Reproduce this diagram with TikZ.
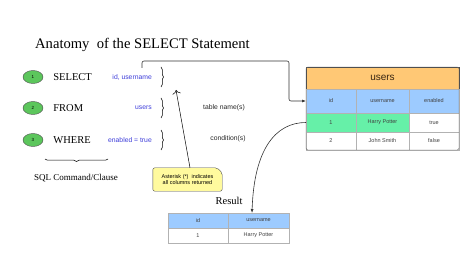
\documentclass[tikz,border=0pt]{standalone}
\usepackage{fontspec}
\setmainfont{Liberation Serif}
\setsansfont{Liberation Sans}
\usepackage{xcolor}
\usetikzlibrary{arrows.meta, positioning, shapes.geometric, decorations.pathreplacing, backgrounds}

\definecolor{clausegreen}{HTML}{5CC65C}
\definecolor{titleorange}{HTML}{FFC875}
\definecolor{headblue}{HTML}{9DCBFF}
\definecolor{rowgreen}{HTML}{66F0A8}
\definecolor{argblue}{HTML}{3D3DD9}
\definecolor{noteyellow}{HTML}{FFFA9E}

\tikzset{
  stepnum/.style={ellipse, draw=black!70, fill=clausegreen, minimum width=20, minimum height=13, inner sep=0pt, font=\sffamily\fontsize{4.5}{5}\selectfont},
  keyword/.style={inner sep=0pt, font=\rmfamily\fontsize{10.5}{12}\selectfont},
  argtext/.style={anchor=east, inner sep=0pt, text=argblue, font=\sffamily\fontsize{6.8}{8}\selectfont},
  plaintext/.style={text=black!85, font=\sffamily\fontsize{6.8}{8}\selectfont},
  brace/.style={decorate, decoration={brace, amplitude=2.5pt}, line width=0.5pt},
  cell/.style={draw=gray!60, minimum height=19, inner sep=0pt, outer sep=0pt, font=\sffamily\fontsize{5.5}{6}\selectfont, text=black!75},
  headcell/.style={cell, fill=headblue},
  flowarrow/.style={-{Latex[length=4pt,width=3pt]}, line width=0.6pt, black!80},
}

\begin{document}
\begin{tikzpicture}[x=1pt, y=-1pt]
\useasboundingbox (0,0) rectangle (474,259);

\node[anchor=west, inner sep=0pt, font=\rmfamily\fontsize{14.6}{16}\selectfont] (title) at (35,45) {Anatomy\ \ of the SELECT Statement};

% clauses
\foreach \n/\kw/\arg/\y in {1/SELECT/{id, username}/77, 2/FROM/users/108, 3/WHERE/{enabled = true}/140}{
  \node[stepnum] (c\n) at (33,\y) {\n};
  \node[keyword, right=10pt of c\n] (k\n) {\kw};
  \node[argtext] (a\n) at (152,\y) {\arg};
  \draw[brace] (161,\y-10) -- (161,\y+10);
}
\node[plaintext] (tname) at (224,108) {table name(s)};
\node[plaintext] (cond) at (228,139) {condition(s)};

\draw[brace] (108,159) -- (45,159);
\node[font=\rmfamily\fontsize{9}{10}\selectfont] (sqlcap) at (76,178) {SQL Command/Clause};

% users table
\node[cell, fill=titleorange, draw=black!70, minimum width=153, minimum height=22, text=black!70!brown, font=\sffamily\fontsize{10}{12}\selectfont] (users) at (382.5,78) {users};
\node[headcell, minimum width=50, minimum height=24] (hid) at (331,101) {id};
\node[headcell, minimum width=53, minimum height=24] (huser) at (382.5,101) {username};
\node[headcell, minimum width=50, minimum height=24] (hen) at (434,101) {enabled};
\node[cell, fill=rowgreen, minimum width=50] (r1id) at (331,122.5) {1};
\node[cell, fill=rowgreen, minimum width=53] (r1user) at (382.5,122.5) {Harry Potter};
\node[cell, minimum width=50] (r1en) at (434,122.5) {true};
\node[cell, minimum width=50, minimum height=18] (r2id) at (331,141) {2};
\node[cell, minimum width=53, minimum height=18] (r2user) at (382.5,141) {John Smith};
\node[cell, minimum width=50, minimum height=18] (r2en) at (434,141) {false};
\draw[black!60, rounded corners=2pt] (users.north west) rectangle (r2en.south east);

\coordinate (selout) at (142,68);
\draw[flowarrow, rounded corners=2pt] (selout) |- (289,61) |- (hid.west);

% note
\node[align=center, minimum width=69, minimum height=23, inner sep=0pt, font=\sffamily\fontsize{5.5}{6.5}\selectfont] (note) at (187.5,179.5) {Asterisk (*)\ \ indicates\\all columns returned};
\begin{scope}[on background layer]
\draw[black!70, fill=noteyellow, rounded corners=2pt] (note.south west) |- ([xshift=-5pt]note.north east) -- ([yshift=-5pt]note.north east) -- (note.south east) -- cycle;
\end{scope}
\coordinate (star) at (176,90);
\draw[-{To[length=4pt]}, line width=0.5pt] ([xshift=2.5pt]note.north) -- (star);

% result
\node[font=\rmfamily\fontsize{10.5}{12}\selectfont] (reslabel) at (229,201) {Result};
\node[headcell, minimum width=60, minimum height=15] (rid) at (198,220.5) {id};
\node[headcell, minimum width=61, minimum height=15] (ruser) at (258.5,220.5) {username};
\node[cell, minimum width=60, minimum height=15] (rrid) at (198,235.5) {1};
\node[cell, minimum width=61, minimum height=15] (rruser) at (258.5,235.5) {Harry Potter};

\draw[flowarrow] (r1id.west) .. controls (275,122.5) and (254,150) .. ([xshift=-6.5pt]ruser.north);
\end{tikzpicture}
\end{document}
